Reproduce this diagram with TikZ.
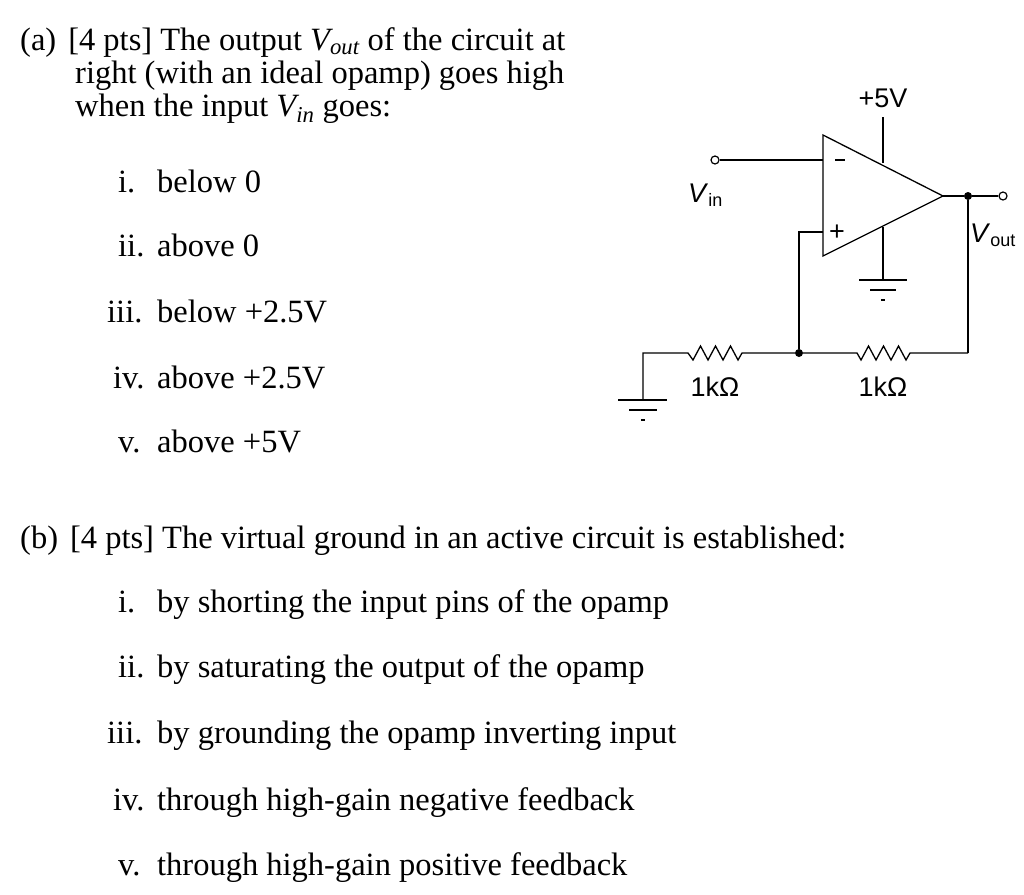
\documentclass[tikz,border=0pt]{standalone}
\usepackage{fontspec}
\setmainfont{Liberation Serif}
\newfontfamily\circfont{Liberation Sans}
\begin{document}
\begin{tikzpicture}[x=1pt,y=-1pt,
  txt/.style={anchor=base west,inner sep=0,font=\fontsize{32.5}{36}\selectfont},
  lab/.style={inner sep=0,font=\circfont\fontsize{27}{30}\selectfont},
  wire/.style={line width=1.3pt,line join=miter},
  term/.style={circle,draw,line width=1.2pt,fill=white,minimum size=8pt,inner sep=0},
  dot/.style={circle,fill,minimum size=8pt,inner sep=0}]
\useasboundingbox (0,0) rectangle (1024,894);
% text (a)
\node[txt] (a1) at (20,50) {(a)\hspace{12pt}[4 pts] The output \textit{V\textsubscript{out}} of the circuit at};
\node[txt] (a2) at (75,83) {right (with an ideal opamp) goes high};
\node[txt] (a3) at (75,116) {when the input \textit{V\textsubscript{in}} goes:};
\foreach \n/\x/\t/\y [count=\k] in {i./118/below 0/192, ii./118/above 0/256, iii./107/below +2.5V/322, iv./113/above +2.5V/388, v./118/above +5V/452}{
  \node[txt] (an\k) at (\x,\y) {\n};
  \node[txt] (at\k) at (157,\y) {\t};
}
\node[txt] (b1) at (20,548) {(b)\hspace{12pt}[4 pts] The virtual ground in an active circuit is established:};
\foreach \n/\x/\t/\y [count=\k] in {i./118/by shorting the input pins of the opamp/612, ii./118/by saturating the output of the opamp/677, iii./107/by grounding the opamp inverting input/743, iv./113/through high-gain negative feedback/810, v./118/through high-gain positive feedback/875}{
  \node[txt] (bn\k) at (\x,\y) {\n};
  \node[txt] (bt\k) at (157,\y) {\t};
}
% circuit
\coordinate (tl) at (823,135); \coordinate (bl) at (823,256); \coordinate (ap) at (943,196);
\draw[wire] (tl) -- (ap) -- (bl) -- cycle;
\coordinate (inm) at (823,160); \coordinate (inp) at (823,232);
\node[term] (vin) at (715,160) {};
\draw[wire] (vin) -- (inm);
\node[inner sep=0] (mi) at (840,160) {\rule{10pt}{1.6pt}};
\node[lab] (pl) at (837,233) {+};
% supply
\coordinate (sup) at (883,117); \coordinate (supb) at (883,163);
\draw[wire] (sup) -- (supb);
\node[lab] (p5) at (883,98) {+5V};
\coordinate (gnt) at (883,227); \coordinate (gnb) at (883,280);
\draw[wire] (gnt) -- (gnb);
\draw[wire] (859,280) -- (907,280) (870,290) -- (896,290) (881,300) -- (885,300);
% output
\node[dot] (j1) at (968,196) {};
\node[term] (vout) at (1003,196) {};
\draw[wire] (ap) -- (j1) -- (vout);
\node[lab,anchor=base west] (voutl) at (970,242) {\textit{V}\raisebox{-0.35ex}{\fontsize{18}{20}\selectfont out}};
\node[lab,anchor=base west] (vinl) at (688,202) {\textit{V}\raisebox{-0.35ex}{\fontsize{18}{20}\selectfont in}};
% feedback
\node[dot] (j2) at (799,353) {};
\coordinate (c1) at (799,232);
\draw[wire] (inp) -- (c1) -- (j2);
\coordinate (c2) at (968,353);
\draw[wire] (j1) -- (c2);
% resistors
\coordinate (r2a) at (857,353); \coordinate (r2b) at (910,353);
\draw[wire] (c2) -- (r2b) -- ++(-4,7) -- ++(-7.5,-14) -- ++(-7.5,14) -- ++(-7.5,-14) -- ++(-7.5,14) -- ++(-7.5,-14) -- ++(-7.5,14) -- (r2a) -- (j2);
\coordinate (r1a) at (688,353); \coordinate (r1b) at (742,353);
\coordinate (gl) at (643,353); \coordinate (glb) at (643,400);
\draw[wire] (j2) -- (r1b) -- ++(-4,7) -- ++(-7.5,-14) -- ++(-7.5,14) -- ++(-7.5,-14) -- ++(-7.5,14) -- ++(-7.5,-14) -- ++(-7.5,14) -- (r1a) -- (gl) -- (glb);
\draw[wire] (618,400) -- (667,400) (629,410) -- (657,410) (641,420) -- (645,420);
\node[lab] (r1l) at (715,387) {1kΩ};
\node[lab] (r2l) at (883,387) {1kΩ};
\end{tikzpicture}
\end{document}
